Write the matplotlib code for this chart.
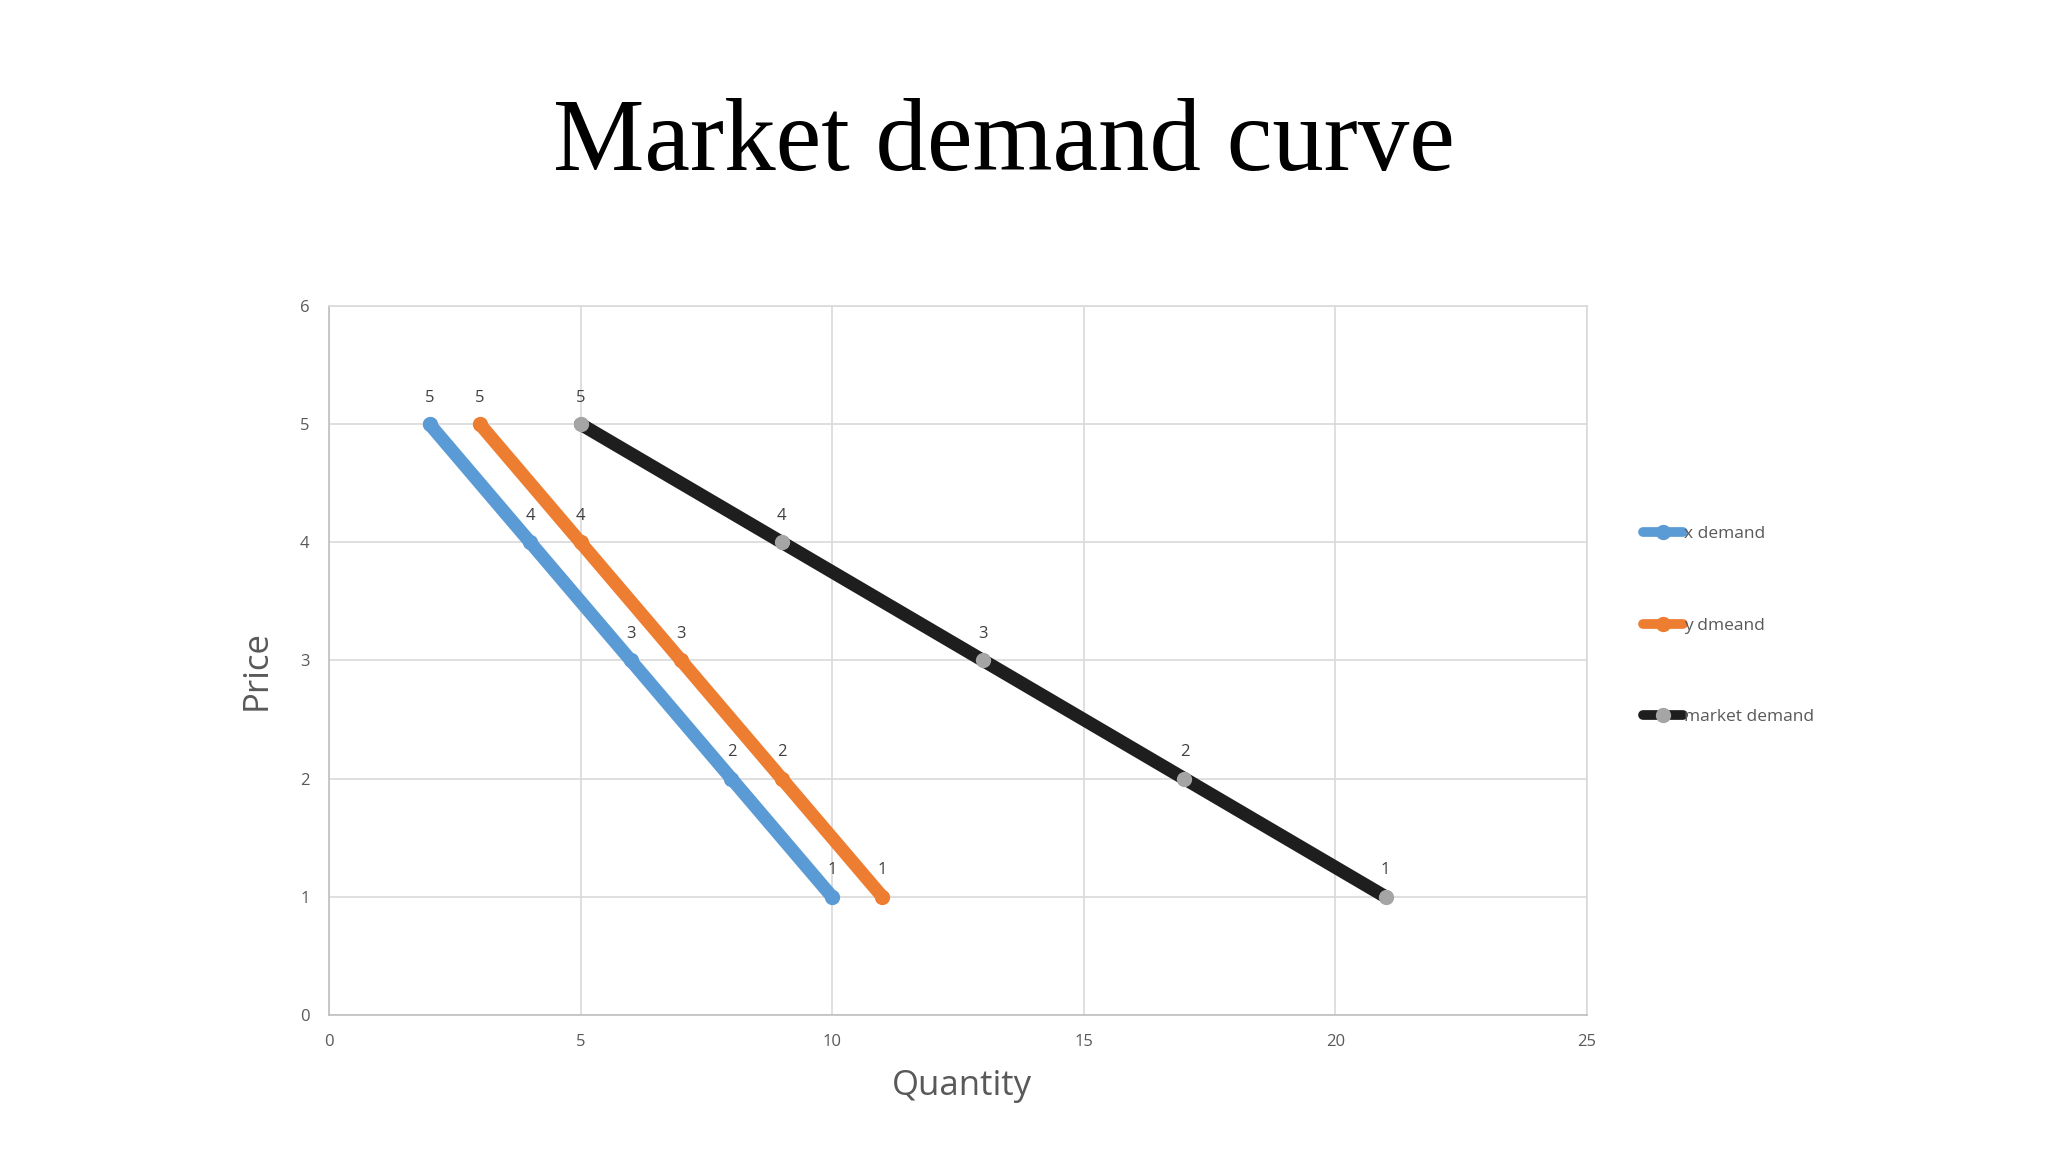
import matplotlib
matplotlib.use("Agg")
import matplotlib.pyplot as plt

price = [5, 4, 3, 2, 1]
x_demand = [2, 4, 6, 8, 10]
y_demand = [3, 5, 7, 9, 11]
market_demand = [5, 9, 13, 17, 21]
series_names = ["x demand", "y dmeand", "market demand"]
x_ticks = [0, 5, 10, 15, 20, 25]
y_ticks = [0, 1, 2, 3, 4, 5, 6]

plt.rcParams['font.family'] = ['Open Sans', 'DejaVu Sans']

fig = plt.figure(figsize=(20.48, 11.52), dpi=100)
ax = fig.add_axes([0.1606, 0.1189, 0.6143, 0.6155])

series = [
    (x_demand, "#5b9bd5", "#5b9bd5", series_names[0]),
    (y_demand, "#ed7d31", "#ed7d31", series_names[1]),
    (market_demand, "#1e1e1e", "#a5a5a5", series_names[2]),
]
for q, c, mc, name in series:
    ax.plot(q, price, color=c, lw=9.5, solid_capstyle='round', marker='o',
            markersize=10, markerfacecolor=mc, markeredgecolor=mc, label=name, zorder=3)
    for xi, yi in zip(q, price):
        ax.annotate(str(yi), (xi, yi), xytext=(0, 19), textcoords='offset points',
                    ha='center', va='center', fontsize=12, color='#404040', zorder=4)

ax.set_xlim(0, 25)
ax.set_ylim(0, 6)
ax.set_xticks(x_ticks)
ax.set_yticks(y_ticks)
ax.grid(True, color='#d9d9d9', lw=1.2)
ax.set_axisbelow(True)
for s in ax.spines.values():
    s.set_color('#d9d9d9')
    s.set_linewidth(1.2)
ax.spines['left'].set_color('#bfbfbf')
ax.spines['bottom'].set_color('#bfbfbf')
ax.tick_params(length=0, labelsize=12, labelcolor='#595959', pad=14)

fig.text(0.1255, 0.418, "Price", rotation=90, ha='center', va='center', fontsize=25, color='#595959')
fig.text(0.4697, 0.057, "Quantity", ha='center', va='center', fontsize=25, color='#595959')

fig.text(0.49, 0.852, "Market demand curve", ha='center', va='baseline', fontsize=74,
         family=['Liberation Serif', 'DejaVu Serif'], color='black')

leg = fig.legend(loc='center left', bbox_to_anchor=(0.7945, 0.457), frameon=False,
                 fontsize=12.5, handlelength=2.3, handletextpad=0.05, labelspacing=4.35)
for t in leg.get_texts():
    t.set_color('#595959')
for h in leg.legend_handles:
    h.set_linewidth(7)

fig.savefig("out.png", dpi=100, facecolor='white')
